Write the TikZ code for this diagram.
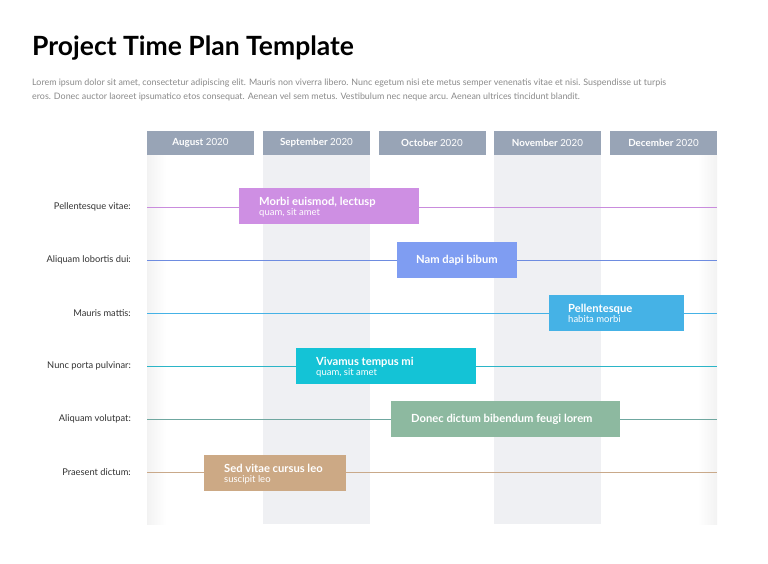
\documentclass[tikz,border=0pt]{standalone}
\usepackage{fontspec}
\setmainfont{Lato}
\definecolor{hdr}{HTML}{98A4B6}
\definecolor{stripe}{HTML}{EFF0F3}
\definecolor{cPurple}{HTML}{CE8FE3}
\definecolor{lPurple}{HTML}{C98CDD}
\definecolor{cBlue}{HTML}{7F9DF2}
\definecolor{lBlue}{HTML}{6E8CE0}
\definecolor{cSky}{HTML}{45B2E6}
\definecolor{lSky}{HTML}{45B2E6}
\definecolor{cCyan}{HTML}{14C3D6}
\definecolor{lCyan}{HTML}{2BB5C7}
\definecolor{cGreen}{HTML}{8DB9A0}
\definecolor{lGreen}{HTML}{6FA7A0}
\definecolor{cTan}{HTML}{CCA985}
\definecolor{lTan}{HTML}{C9A98A}
\definecolor{bodygray}{HTML}{8A8A8A}
\definecolor{lblgray}{HTML}{333333}
\begin{document}
\begin{tikzpicture}[x=1pt,y=-1pt,
  hdrbox/.style={fill=hdr, text=white, minimum width=107pt, minimum height=24pt, inner sep=0pt, font=\fontsize{9.8}{11}\selectfont},
  bar/.style={minimum height=36pt, inner sep=0pt, anchor=north west},
  bartitle/.style={anchor=base west, inner sep=0pt, text=white, font=\fontsize{11.2}{12}\selectfont\bfseries},
  barsub/.style={anchor=base west, inner sep=0pt, text=white, font=\fontsize{9.5}{11}\selectfont},
  lbl/.style={anchor=east, inner sep=0pt, text=lblgray, font=\fontsize{9.3}{11}\selectfont},
  rowline/.style={line width=1pt}]
\useasboundingbox (0,0) rectangle (768,563);
\fill[white] (0,0) rectangle (768,563);
% title and intro
\node[anchor=base west, inner sep=0pt, font=\fontsize{26.5}{30}\selectfont\bfseries] (title) at (32,55) {Project Time Plan Template};
\node[anchor=base west, inner sep=0pt, text=bodygray, font=\fontsize{8.9}{10}\selectfont] (intro1) at (32,85) {Lorem ipsum dolor sit amet, consectetur adipiscing elit. Mauris non viverra libero. Nunc egetum nisi ete metus semper venenatis vitae et nisi. Suspendisse ut turpis};
\node[anchor=base west, inner sep=0pt, text=bodygray, font=\fontsize{8.9}{10}\selectfont] (intro2) at (32,99) {eros. Donec auctor laoreet ipsumatico etos consequat. Aenean vel sem metus. Vestibulum nec neque arcu. Aenean ultrices tincidunt blandit.};
% stripes
\fill[stripe] (263,155) rectangle (370,524);
\fill[stripe] (494,155) rectangle (601,524);
\shade[left color=black!5, right color=white] (147,155) rectangle (166,524);
\shade[left color=white, right color=black!5] (698,155) rectangle (717,524);
% headers
\node[hdrbox] (m1) at (200.5,143) {\textbf{August} 2020};
\node[hdrbox] (m2) at (316.5,143) {\textbf{September} 2020};
\node[hdrbox] (m3) at (432,143) {\textbf{October} 2020};
\node[hdrbox] (m4) at (547.5,143) {\textbf{November} 2020};
\node[hdrbox] (m5) at (663.5,143) {\textbf{December} 2020};
% row coordinates
\foreach \i/\y in {1/207,2/260,3/313,4/366,5/419,6/472}{
  \coordinate (s\i) at (147,\y);
  \coordinate (e\i) at (717,\y);
}
\draw[rowline, lPurple] (s1) -- (e1);
\draw[rowline, lBlue] (s2) -- (e2);
\draw[rowline, lSky] (s3) -- (e3);
\draw[rowline, lCyan] (s4) -- (e4);
\draw[rowline, lGreen] (s5) -- (e5);
\draw[rowline, lTan] (s6) -- (e6);
% labels
\node[lbl] (l1) at (131,207) {Pellentesque vitae:};
\node[lbl] (l2) at (131,260) {Aliquam lobortis dui:};
\node[lbl] (l3) at (131,313) {Mauris mattis:};
\node[lbl] (l4) at (131,366) {Nunc porta pulvinar:};
\node[lbl] (l5) at (131,419) {Aliquam volutpat:};
\node[lbl] (l6) at (131,472) {Praesent dictum:};
% bars
\node[bar, fill=cPurple, minimum width=180pt] (b1) at (239,188) {};
\node[bar, fill=cBlue, minimum width=120pt] (b2) at (397,242) {};
\node[bar, fill=cSky, minimum width=135pt] (b3) at (549,295) {};
\node[bar, fill=cCyan, minimum width=180pt] (b4) at (296,348) {};
\node[bar, fill=cGreen, minimum width=229pt] (b5) at (391,401) {};
\node[bar, fill=cTan, minimum width=142pt] (b6) at (204,455) {};
% bar texts
\node[bartitle] (t1) at ([xshift=20pt,yshift=-17pt]b1.north west) {Morbi euismod, lectusp};
\node[barsub] (u1) at ([xshift=20pt,yshift=-27.5pt]b1.north west) {quam, sit amet};
\node[bartitle, anchor=west] (t2) at ([xshift=19pt]b2.west) {Nam dapi bibum};
\node[bartitle] (t3) at ([xshift=19pt,yshift=-17pt]b3.north west) {Pellentesque};
\node[barsub] (u3) at ([xshift=19pt,yshift=-27.5pt]b3.north west) {habita morbi};
\node[bartitle] (t4) at ([xshift=20pt,yshift=-17pt]b4.north west) {Vivamus tempus mi};
\node[barsub] (u4) at ([xshift=20pt,yshift=-27.5pt]b4.north west) {quam, sit amet};
\node[bartitle, anchor=west] (t5) at ([xshift=20pt]b5.west) {Donec dictum bibendum feugi lorem};
\node[bartitle] (t6) at ([xshift=20pt,yshift=-17pt]b6.north west) {Sed vitae cursus leo};
\node[barsub] (u6) at ([xshift=20pt,yshift=-27.5pt]b6.north west) {suscipit leo};
\end{tikzpicture}
\end{document}
